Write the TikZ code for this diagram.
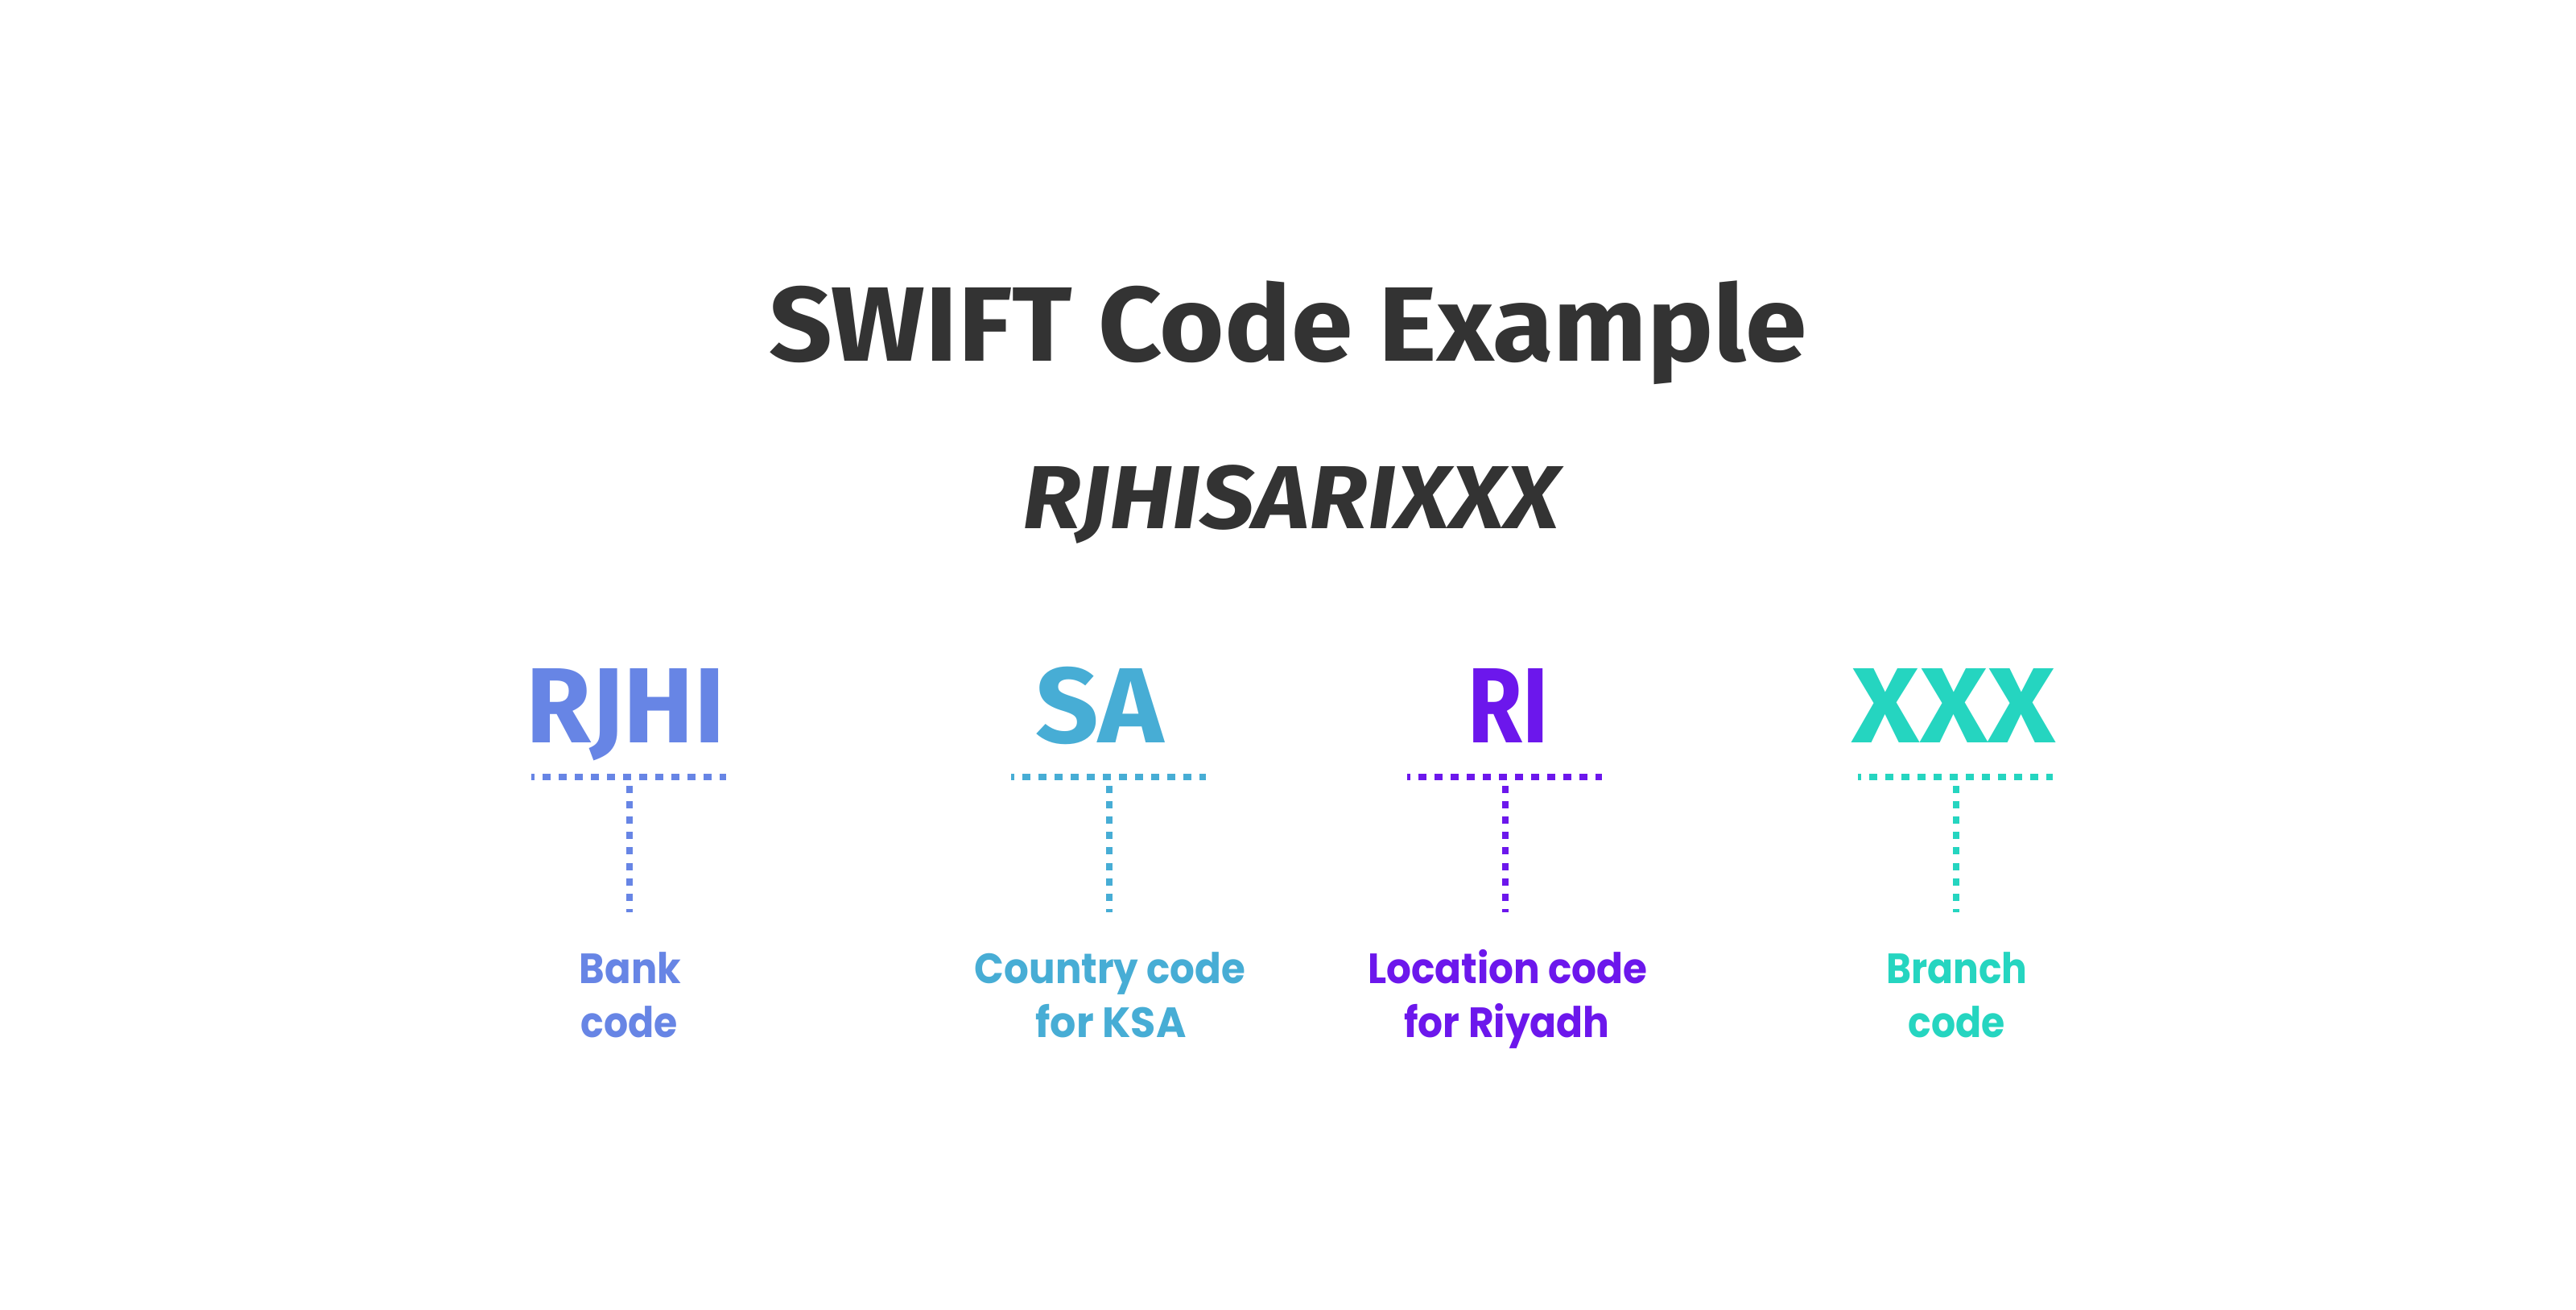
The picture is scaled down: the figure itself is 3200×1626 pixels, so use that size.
\documentclass[tikz,border=0pt]{standalone}
\usepackage{fontspec}
\usepackage{graphicx}
\newfontfamily\exofont{Fira Sans}
\newfontfamily\lblfont{Poppins}
\definecolor{cdark}{HTML}{333333}
\definecolor{cbank}{HTML}{6785E5}
\definecolor{ccountry}{HTML}{47ADD5}
\definecolor{cloc}{HTML}{6C17EC}
\definecolor{cbranch}{HTML}{25D5C0}
\newsavebox\fitsave
\newlength\fitcap
% #1 font switch, #2 target width, #3 target cap height, #4 text
\newcommand\fitbox[4]{\begingroup#1%
  \sbox\fitsave{#4}%
  \setlength\fitcap{\fontcharht\font`H}%
  \scalebox{\fpeval{(\the\dimexpr#2\relax)/(\the\wd\fitsave)}}[\fpeval{(\the\dimexpr#3\relax)/(\the\fitcap)}]{\usebox\fitsave}%
  \endgroup}
\newcommand\ttl[3]{\fitbox{\exofont\bfseries}{#1}{#2}{#3}}
\newcommand\sub[3]{\fitbox{\exofont\bfseries\itshape}{#1}{#2}{#3}}
\newcommand\lbl[2]{\fitbox{\lblfont\bfseries}{#1}{0.37cm}{#2}}
\tikzset{
  txt/.style={inner sep=0pt, outer sep=0pt, anchor=base},
  hbar/.style={line width=0.08cm, line cap=butt, dash pattern=on 0.093cm off 0.107cm, dash phase=0.057cm},
  vbar/.style={line width=0.08cm, line cap=butt, dash pattern=on 0.09cm off 0.101cm},
}
\begin{document}
\begin{tikzpicture}[x=0.01cm,y=-0.01cm]
\useasboundingbox (0,0) rectangle (3200,1626);
\fill[white] (0,0) rectangle (3200,1626);

% heading
\node[txt, text=cdark] (title) at (1600,448) {\ttl{12.89cm}{0.91cm}{SWIFT Code Example}};
\node[txt, text=cdark] (code) at (1604,656) {\sub{6.67cm}{0.77cm}{RJHISARIXXX}};

% parts
\node[txt, text=cbank]    (p1) at (777,922)  {\ttl{2.47cm}{0.92cm}{RJHI}};
\node[txt, text=ccountry] (p2) at (1366,922) {\ttl{1.59cm}{0.92cm}{SA}};
\node[txt, text=cloc]     (p3) at (1874,922) {\ttl{1.00cm}{0.92cm}{RI}};
\node[txt, text=cbranch]  (p4) at (2427,922) {\ttl{2.52cm}{0.92cm}{XXX}};

% bars
\coordinate (h1l) at (660,965);  \coordinate (h1r) at (902,965);
\coordinate (h2l) at (1256,965); \coordinate (h2r) at (1498,965);
\coordinate (h3l) at (1748,965); \coordinate (h3r) at (1990,965);
\coordinate (h4l) at (2308,965); \coordinate (h4r) at (2550,965);
\draw[hbar, cbank]    (h1l) -- (h1r);
\draw[hbar, ccountry] (h2l) -- (h2r);
\draw[hbar, cloc]     (h3l) -- (h3r);
\draw[hbar, cbranch]  (h4l) -- (h4r);

% stems
\coordinate (v1t) at (782,976);  \coordinate (v1b) at (782,1133);
\coordinate (v2t) at (1378,976); \coordinate (v2b) at (1378,1133);
\coordinate (v3t) at (1870,976); \coordinate (v3b) at (1870,1133);
\coordinate (v4t) at (2430,976); \coordinate (v4b) at (2430,1133);
\draw[vbar, cbank]    (v1t) -- (v1b);
\draw[vbar, ccountry] (v2t) -- (v2b);
\draw[vbar, cloc]     (v3t) -- (v3b);
\draw[vbar, cbranch]  (v4t) -- (v4b);

% labels
\node[txt, text=cbank] (l1a) at (783,1221) {\lbl{1.26cm}{Bank}};
\node[txt, text=cbank] (l1b) at (782,1288) {\lbl{1.20cm}{code}};
\node[txt, text=ccountry] (l2a) at (1379,1221) {\lbl{3.36cm}{Country code}};
\node[txt, text=ccountry] (l2b) at (1380,1288) {\lbl{1.87cm}{for KSA}};
\node[txt, text=cloc] (l3a) at (1873,1221) {\lbl{3.47cm}{Location code}};
\node[txt, text=cloc] (l3b) at (1872,1288) {\lbl{2.55cm}{for Riyadh}};
\node[txt, text=cbranch] (l4a) at (2431,1221) {\lbl{1.75cm}{Branch}};
\node[txt, text=cbranch] (l4b) at (2431,1288) {\lbl{1.20cm}{code}};
\end{tikzpicture}
\end{document}
